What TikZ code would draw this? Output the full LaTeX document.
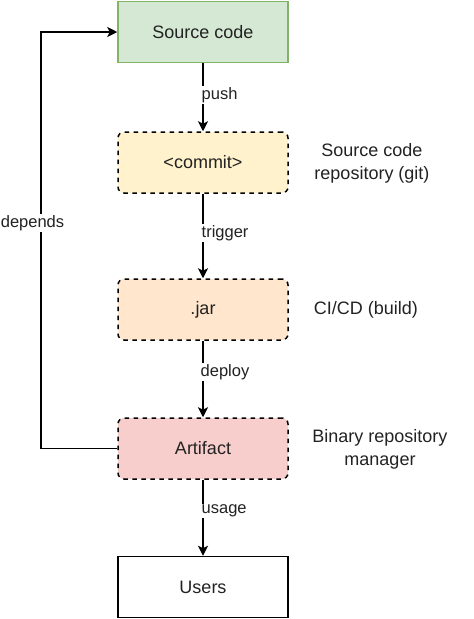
\documentclass[tikz,border=0pt]{standalone}
\usepackage{fontspec}
\setmainfont{Liberation Sans}
\usetikzlibrary{arrows.meta}
\definecolor{gfill}{HTML}{D5E8D4}
\definecolor{gline}{HTML}{82B366}
\definecolor{yfill}{HTML}{FFF2CC}
\definecolor{ofill}{HTML}{FFE6CC}
\definecolor{rfill}{HTML}{F8CECC}
\definecolor{txt}{HTML}{222222}
\tikzset{
  box/.style={draw, line width=1.5pt, minimum width=170pt, minimum height=61pt,
    inner sep=0pt, font=\fontsize{18}{22}\selectfont, text=txt},
  dbox/.style={box, rounded corners=6pt, dash pattern=on 4.5pt off 4.5pt},
  side/.style={align=center, font=\fontsize{18}{23}\selectfont, text=txt, inner sep=0pt},
  elabel/.style={fill=white, inner sep=1pt, font=\fontsize{16.5}{20}\selectfont, text=txt},
  conn/.style={line width=1.5pt, -{Stealth[length=10pt,width=10pt,inset=2.5pt]}}
}
\begin{document}
\begin{tikzpicture}[x=1pt,y=-1pt]
\useasboundingbox (0,0) rectangle (474,619);
\node[box, fill=gfill, draw=gline] (src) at (203,32) {Source code};
\node[dbox, fill=yfill] (commit) at (203,162.5) {<commit>};
\node[dbox, fill=ofill] (jar) at (203,309.5) {.jar};
\node[dbox, fill=rfill] (art) at (203,448.5) {Artifact};
\node[box, fill=white] (users) at (203,587) {Users};

\node[side] (l1) at (372,163.5) {Source code\\repository (git)};
\node[side] (l2) at (366,310) {CI/CD (build)};
\node[side] (l3) at (380,449) {Binary repository\\manager};

\draw[conn] (src) -- (commit);
\draw[conn] (commit) -- (jar);
\draw[conn] (jar) -- (art);
\draw[conn] (art) -- (users);

\coordinate (lc) at (41,448.5);
\draw[conn] (art.west) -- (lc) |- (src.west);

\node[elabel, anchor=west] (p) at (200.5,95) {push};
\node[elabel, anchor=west] (t) at (200.5,233) {trigger};
\node[elabel, anchor=west] (d) at (199.5,372) {deploy};
\node[elabel, anchor=west] (u) at (200.5,511) {usage};
\node[elabel] (dep) at (32.5,223) {depends};
\end{tikzpicture}
\end{document}
